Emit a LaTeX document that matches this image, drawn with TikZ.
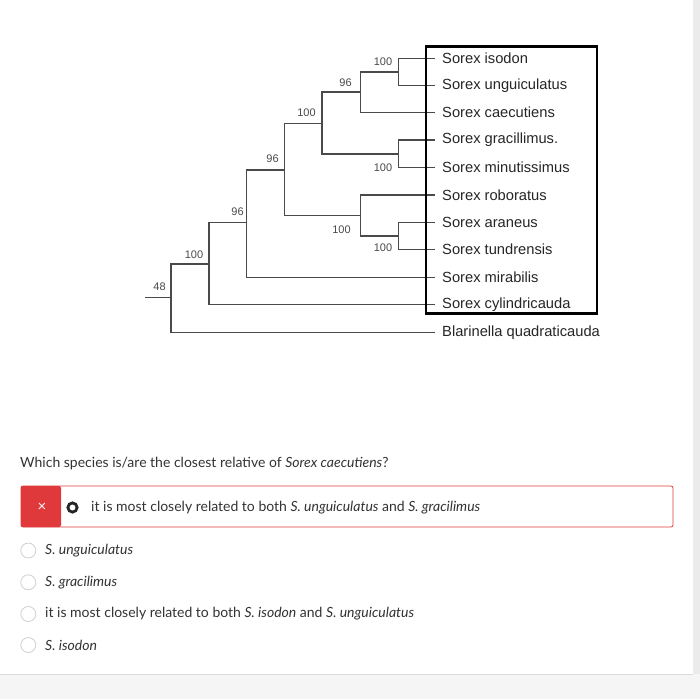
\documentclass[tikz,border=0pt]{standalone}
\usepackage{fontspec}
\setmainfont{Liberation Sans}
\newfontfamily\latofont{Lato}
\definecolor{treegray}{HTML}{4A4A4A}
\definecolor{txtgray}{HTML}{333333}
\definecolor{errred}{HTML}{E0393B}
\definecolor{ringgray}{HTML}{D0D0D0}
\begin{document}
\begin{tikzpicture}[x=1pt,y=-1pt,
  branch/.style={draw=treegray,line width=1.1pt},
  leaf/.style={anchor=west,inner xsep=7pt,inner ysep=0pt,text=black!85,font=\fontsize{14.7}{16}\selectfont},
  boot/.style={inner sep=0pt,text=treegray,font=\fontsize{11}{12}\selectfont},
  qtext/.style={anchor=west,inner sep=0pt,text=txtgray,font=\latofont\fontsize{14}{16}\selectfont},
  optring/.style={draw=ringgray,line width=0.8pt,fill=white}]
\useasboundingbox (0,0) rectangle (700,699);
\fill[white] (0,0) rectangle (700,699);
% page chrome
\fill[black!8] (693,0) rectangle (700,680);
\fill[black!4] (0,674) rectangle (700,699);
\draw[black!14,line width=1pt] (0,674) -- (693,674);

% leaves
\node[leaf] (l1) at (435,58.3) {Sorex isodon};
\node[leaf] (l2) at (435,85.7) {Sorex unguiculatus};
\node[leaf] (l3) at (435,112.3) {Sorex caecutiens};
\node[leaf] (l4) at (435,140) {Sorex gracillimus.};
\node[leaf] (l5) at (435,167.3) {Sorex minutissimus};
\node[leaf] (l6) at (435,195) {Sorex roboratus};
\node[leaf] (l7) at (435,222.3) {Sorex araneus};
\node[leaf] (l8) at (435,249.3) {Sorex tundrensis};
\node[leaf] (l9) at (435,277.3) {Sorex mirabilis};
\node[leaf] (l10) at (435,304.3) {Sorex cylindricauda};
\node[leaf] (l11) at (435,332.3) {Blarinella quadraticauda};

% internal nodes
\coordinate (n1) at (398.7,72);
\coordinate (n2) at (360.7,92);
\coordinate (n3) at (398.7,154);
\coordinate (n4) at (322,123.3);
\coordinate (n5) at (398.7,236);
\coordinate (n6) at (360.7,215.7);
\coordinate (n7) at (284.3,170);
\coordinate (n8) at (246.7,222.7);
\coordinate (n9) at (209,264);
\coordinate (n10) at (171,297.5);
\coordinate (r0) at (145,297.5);

\draw[branch] (n1) |- (l1.west);
\draw[branch] (n1) |- (l2.west);
\draw[branch] (n2) |- (n1);
\draw[branch] (n2) |- (l3.west);
\draw[branch] (n3) |- (l4.west);
\draw[branch] (n3) |- (l5.west);
\draw[branch] (n4) |- (n2);
\draw[branch] (n4) |- (n3);
\draw[branch] (n5) |- (l7.west);
\draw[branch] (n5) |- (l8.west);
\draw[branch] (n6) |- (l6.west);
\draw[branch] (n6) |- (n5);
\draw[branch] (n7) |- (n4);
\draw[branch] (n7) |- (n6);
\draw[branch] (n8) |- (n7);
\draw[branch] (n8) |- (l9.west);
\draw[branch] (n9) |- (n8);
\draw[branch] (n9) |- (l10.west);
\draw[branch] (n10) |- (n9);
\draw[branch] (n10) |- (l11.west);
\draw[branch] (r0) -- (n10);

% box
\node[draw=black,line width=2.4pt,inner sep=0pt,minimum width=171pt,minimum height=267pt] (box) at (511.5,180) {};

% bootstrap values
\node[boot] (b1) at (383,61.5) {100};
\node[boot] (b2) at (345.5,83) {96};
\node[boot] (b3) at (306.5,112.5) {100};
\node[boot] (b4) at (383,167.5) {100};
\node[boot] (b5) at (272.5,159) {96};
\node[boot] (b6) at (237.5,212) {96};
\node[boot] (b7) at (341.5,229.3) {100};
\node[boot] (b8) at (383,247.5) {100};
\node[boot] (b9) at (194,255) {100};
\node[boot] (b10) at (159.5,286.5) {48};

% question
\node[qtext] (q) at (20,464) {Which species is/are the closest relative of \textit{Sorex caecutiens}?};

% selected (wrong) answer
\draw[errred,line width=0.8pt,rounded corners=2pt] (21,486) rectangle (673,527);
\fill[errred,rounded corners=2pt] (21,486) rectangle (61,527);
\node[text=white,font=\latofont\fontsize{15}{16}\selectfont,inner sep=0pt] (x) at (42,507.5) {×};
\draw[black!85,line width=2.8pt] (72.5,507.5) circle (4.6);
\node[qtext] (a0) at (91,507.5) {it is most closely related to both \textit{S. unguiculatus} and \textit{S. gracilimus}};

% other options
\draw[optring] (28.3,550.5) circle (7.5);
\node[qtext] (a1) at (45,550.5) {\textit{S. unguiculatus}};
\draw[optring] (28.3,582.3) circle (7.5);
\node[qtext] (a2) at (45,582.3) {\textit{S. gracilimus}};
\draw[optring] (28.3,614) circle (7.5);
\node[qtext] (a3) at (45,614) {it is most closely related to both \textit{S. isodon} and \textit{S. unguiculatus}};
\draw[optring] (28.3,645) circle (7.5);
\node[qtext] (a4) at (45,645) {\textit{S. isodon}};
\end{tikzpicture}
\end{document}
